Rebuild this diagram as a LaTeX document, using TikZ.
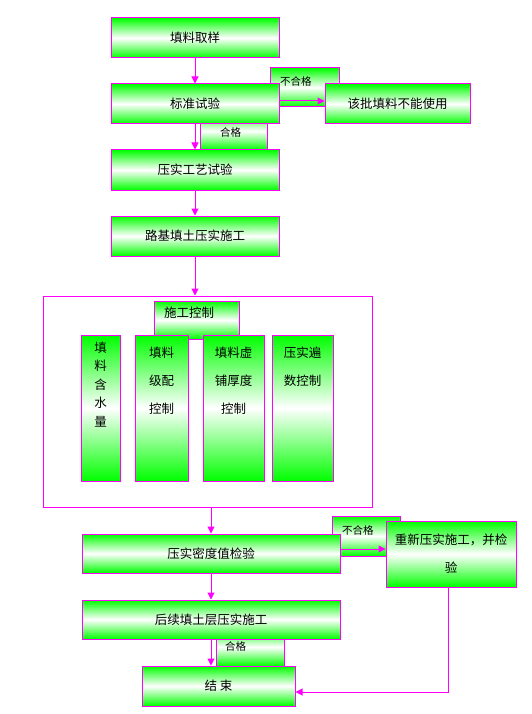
\documentclass[tikz,border=0pt]{standalone}
\usepackage{fontspec}
\newfontfamily\cjk{Noto Sans CJK SC}
\usetikzlibrary{arrows.meta,positioning}
\definecolor{edgepink}{RGB}{255,0,255}
\definecolor{fillgreen}{RGB}{0,255,0}

\begin{document}
\begin{tikzpicture}[x=1pt,y=-1pt,
    every node/.style={inner sep=0pt,font=\cjk\fontsize{12.5}{14}\selectfont},
    shadebox/.style={draw=edgepink,line width=1pt,top color=fillgreen,bottom color=fillgreen,middle color=white},
    flowbox/.style={shadebox,minimum height=40pt},
    tagbox/.style={shadebox,align=left,font=\cjk\fontsize{10.5}{12}\selectfont},
    coltext/.style={align=center,font=\cjk\fontsize{12.5}{28}\selectfont},
    linkarrow/.style={draw=edgepink,line width=1pt,-{Triangle[length=7pt,width=7pt]}}]
    \fill[white] (0,0) rectangle (532,714);
    \useasboundingbox (0,0) rectangle (532,714);
    \node[tagbox,text width=49pt,inner xsep=10pt,text height=17.7pt,text depth=21.3pt] (buhege1) at (304.5,87.5) {不合格};
    \node[tagbox,text width=27pt,inner xsep=20pt,text height=25pt,text depth=13pt] (hege1) at (233.5,131) {合格};
    \node[tagbox,text width=48pt,inner xsep=10pt,text height=18pt,text depth=22pt] (buhege2) at (366,536) {不合格};
    \node[tagbox,text width=50pt,inner xsep=9pt,text height=22pt,text depth=16pt] (hege2) at (250,647) {合格};
    \node[flowbox,minimum width=168pt] (quyang) at (195,38) {填料取样};
    \node[flowbox,minimum width=168pt] (biaozhun) at (195,104) {标准试验};
    \node[flowbox,minimum width=145pt] (buneng) at (397.5,104) {该批填料不能使用};
    \node[flowbox,minimum width=168pt] (gongyi) at (195,170) {压实工艺试验};
    \node[flowbox,minimum width=168pt] (luji) at (195,236) {路基填土压实施工};
    \node[draw=edgepink,line width=1pt,fill=white,minimum width=329pt,minimum height=211pt] (kongzhi) at (207.5,401.5) {};
    \node[shadebox,text width=65pt,inner xsep=10pt,align=left,text height=16.6pt,text depth=21.4pt] (shigong) at (196.5,320) {施工控制};
    \node[shadebox,minimum width=39pt,minimum height=146pt] (hanshui) at (100.5,408) {};
    \node[shadebox,minimum width=53pt,minimum height=146pt] (jipei) at (161.5,408) {};
    \node[shadebox,minimum width=61pt,minimum height=146pt] (houdu) at (233.5,408) {};
    \node[shadebox,minimum width=61pt,minimum height=146pt] (bianshu) at (302.5,408) {};
    \node[coltext,font=\cjk\fontsize{12.5}{18.6}\selectfont,below=7pt of hanshui.north] (hanshuitxt) {填\\料\\含\\水\\量};
    \node[coltext,below=12pt of jipei.north] (jipeitxt) {填料\\级配\\控制};
    \node[coltext,below=12pt of houdu.north] (houdutxt) {填料虚\\铺厚度\\控制};
    \node[coltext,below=12pt of bianshu.north] (bianshutxt) {压实遍\\数控制};
    \node[flowbox,minimum width=258pt,minimum height=39pt] (midu) at (211,553.5) {压实密度值检验};
    \node[flowbox,minimum width=130pt,minimum height=66pt,coltext] (chongxin) at (451,554) {重新压实施工，并检\\验};
    \node[flowbox,minimum width=258pt,minimum height=39pt] (houxu) at (211,619.5) {后续填土层压实施工};
    \node[flowbox,minimum width=153pt] (jieshu) at (218.5,686) {结 束};
    \draw[linkarrow] (quyang.south) -- (biaozhun.north);
    \draw[linkarrow] ([yshift=3pt]biaozhun.east) -- ([yshift=3pt]buneng.west);
    \draw[linkarrow] (biaozhun.south) -- (gongyi.north);
    \draw[linkarrow] (gongyi.south) -- (luji.north);
    \draw[linkarrow] (luji.south) -- (luji.south |- kongzhi.north);
    \draw[linkarrow] (kongzhi.south -| midu.north) -- (midu.north);
    \draw[linkarrow] ([yshift=4.5pt]midu.east) -- ([yshift=5pt]chongxin.west);
    \draw[linkarrow] (midu.south) -- (houxu.north);
    \draw[linkarrow] (houxu.south) -- (houxu.south |- jieshu.north);
    \draw[linkarrow] ([xshift=-3pt]chongxin.south) |- ([yshift=-6pt]jieshu.east);
\end{tikzpicture}
\end{document}
